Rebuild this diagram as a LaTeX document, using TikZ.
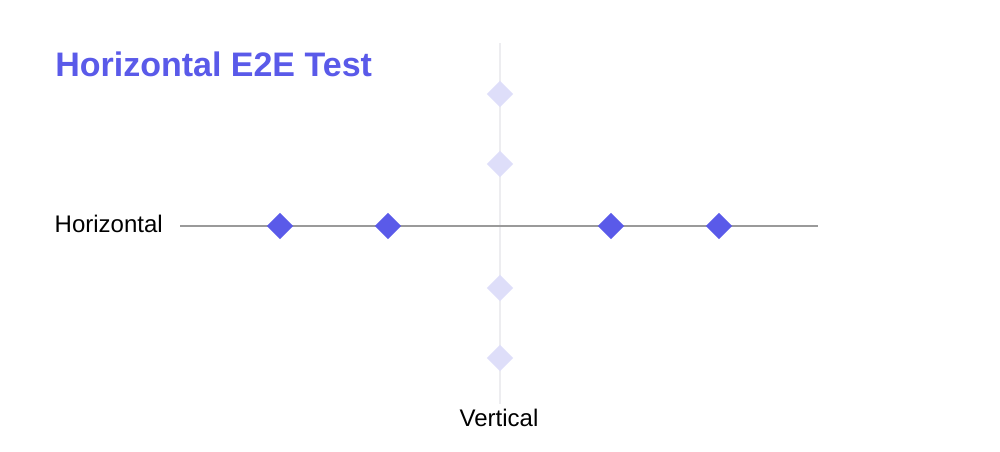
\documentclass[tikz,border=0pt]{standalone}
\usepackage{fontspec}
\setmainfont{Liberation Sans}
\usetikzlibrary{shapes.geometric}

\definecolor{testblue}{HTML}{5A5AE9}
\definecolor{testfaint}{HTML}{DEDEF9}
\definecolor{axisgray}{HTML}{9A9A9A}
\definecolor{axislight}{HTML}{EDEDF0}

\tikzset{
  mark/.style={diamond, fill=#1, draw=none, inner sep=0pt, minimum width=20pt, minimum height=20pt},
  axislabel/.style={font=\fontsize{18}{21}\selectfont, text=black, inner sep=0pt}
}

\begin{document}
\begin{tikzpicture}[x=0.75pt, y=-0.75pt]
\useasboundingbox ( 0, 0 ) rectangle ( 1000, 451 );

%% Title
\node (title) at ( 55, 64 ) [anchor=west, inner sep=0pt, text=testblue, font=\fontsize{25.5}{30}\selectfont\bfseries] {Horizontal E2E Test};

%% Vertical axis
\coordinate (vtop) at ( 500, 43 );
\coordinate (vbot) at ( 500, 404 );
\draw [axislight, line width=1.5pt] (vtop) -- (vbot);
\node (vlabel) at ( 499, 418 ) [axislabel] {Vertical};

%% Horizontal axis
\coordinate (hleft) at ( 180, 226 );
\coordinate (hright) at ( 818, 226 );
\draw [axisgray, line width=1.9pt] (hleft) -- (hright);
\node (hlabel) at ( 163, 224 ) [axislabel, anchor=east] {Horizontal};

%% Faint marks on the vertical axis
\node (v1) at ( 500, 94 ) [mark=testfaint] {};
\node (v2) at ( 500, 164 ) [mark=testfaint] {};
\node (v3) at ( 500, 288 ) [mark=testfaint] {};
\node (v4) at ( 500, 358 ) [mark=testfaint] {};

%% Marks on the horizontal axis
\node (h1) at ( 280, 226 ) [mark=testblue] {};
\node (h2) at ( 388, 226 ) [mark=testblue] {};
\node (h3) at ( 611, 226 ) [mark=testblue] {};
\node (h4) at ( 719, 226 ) [mark=testblue] {};

\end{tikzpicture}
\end{document}
